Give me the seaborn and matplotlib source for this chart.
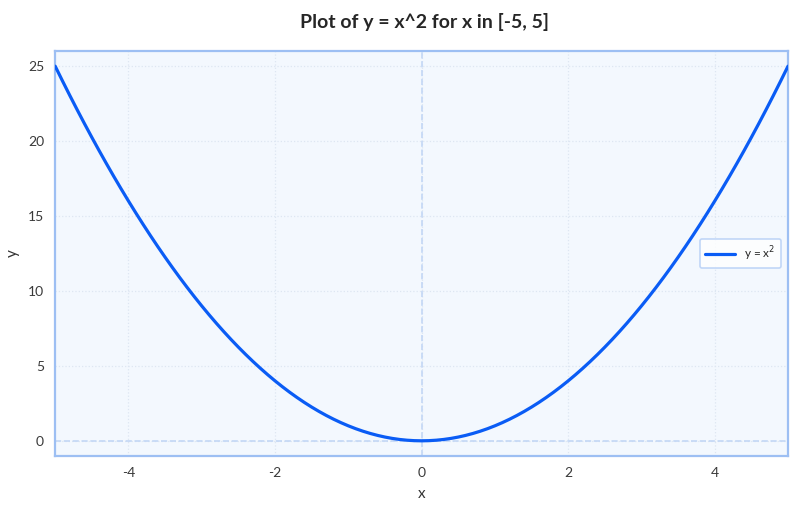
import matplotlib
matplotlib.use("Agg")
import matplotlib.pyplot as plt
import seaborn as sns
import pandas as pd

x_values = [-5.0, -4.9, -4.8, -4.7, -4.6, -4.5, -4.4, -4.3, -4.2, -4.1,
            -4.0, -3.9, -3.8, -3.7, -3.6, -3.5, -3.4, -3.3, -3.2, -3.1,
            -3.0, -2.9, -2.8, -2.7, -2.6, -2.5, -2.4, -2.3, -2.2, -2.1,
            -2.0, -1.9, -1.8, -1.7, -1.6, -1.5, -1.4, -1.3, -1.2, -1.1,
            -1.0, -0.9, -0.8, -0.7, -0.6, -0.5, -0.4, -0.3, -0.2, -0.1,
            0.0,
            0.1, 0.2, 0.3, 0.4, 0.5, 0.6, 0.7, 0.8, 0.9, 1.0,
            1.1, 1.2, 1.3, 1.4, 1.5, 1.6, 1.7, 1.8, 1.9, 2.0,
            2.1, 2.2, 2.3, 2.4, 2.5, 2.6, 2.7, 2.8, 2.9, 3.0,
            3.1, 3.2, 3.3, 3.4, 3.5, 3.6, 3.7, 3.8, 3.9, 4.0,
            4.1, 4.2, 4.3, 4.4, 4.5, 4.6, 4.7, 4.8, 4.9, 5.0]
y_values = [25.0, 24.01, 23.04, 22.09, 21.16, 20.25, 19.36, 18.49, 17.64, 16.81,
            16.0, 15.21, 14.44, 13.69, 12.96, 12.25, 11.56, 10.89, 10.24, 9.61,
            9.0, 8.41, 7.84, 7.29, 6.76, 6.25, 5.76, 5.29, 4.84, 4.41,
            4.0, 3.61, 3.24, 2.89, 2.56, 2.25, 1.96, 1.69, 1.44, 1.21,
            1.0, 0.81, 0.64, 0.49, 0.36, 0.25, 0.16, 0.09, 0.04, 0.01,
            0.0,
            0.01, 0.04, 0.09, 0.16, 0.25, 0.36, 0.49, 0.64, 0.81, 1.0,
            1.21, 1.44, 1.69, 1.96, 2.25, 2.56, 2.89, 3.24, 3.61, 4.0,
            4.41, 4.84, 5.29, 5.76, 6.25, 6.76, 7.29, 7.84, 8.41, 9.0,
            9.61, 10.24, 10.89, 11.56, 12.25, 12.96, 13.69, 14.44, 15.21, 16.0,
            16.81, 17.64, 18.49, 19.36, 20.25, 21.16, 22.09, 23.04, 24.01, 25.0]
series_label = "y = x$^2$"
title_text = "Plot of y = x^2 for x in [-5, 5]"
x_ticks = [-4, -2, 0, 2, 4]
y_ticks = [0, 5, 10, 15, 20, 25]

sns.set_theme(style="white")
plt.rcParams['font.family'] = ['Lato', 'DejaVu Sans']
plt.rcParams['axes.unicode_minus'] = False

df = pd.DataFrame({"x": x_values, "y": y_values})

fig = plt.figure(figsize=(8, 5.07), dpi=100)
ax = fig.add_axes([0.069, 0.101, 0.916, 0.798])
ax.set_facecolor("#f3f8fe")

sns.lineplot(data=df, x="x", y="y", ax=ax, color="#0a5cf5", linewidth=2.3,
             label=series_label, zorder=3)

ax.axhline(0, color="#c3d7f5", linestyle="--", linewidth=1.2, zorder=2)
ax.axvline(0, color="#c3d7f5", linestyle="--", linewidth=1.2, zorder=2)

ax.grid(True, linestyle=":", color="#dde6f2", linewidth=0.9)
ax.set_xlim(-5, 5)
ax.set_ylim(-1, 26)
ax.set_xticks(x_ticks)
ax.set_yticks(y_ticks)
ax.tick_params(length=0, labelsize=10, colors="#3a3a3a", pad=8)

for s in ax.spines.values():
    s.set_color("#9dbff3")
    s.set_linewidth(1.6)

ax.set_xlabel("x", fontsize=11, color="#333333", labelpad=6)
ax.set_ylabel("y", fontsize=11, color="#333333", labelpad=6)
fig.suptitle(title_text, fontsize=14, fontweight="bold", y=0.975, x=0.53)

leg = ax.legend(loc="center right", fontsize=8.5, frameon=True, fancybox=True,
                handlelength=2.5, borderpad=0.45, borderaxespad=0.6)
leg.get_frame().set_edgecolor("#b3cdf5")
leg.get_frame().set_facecolor("white")
leg.get_frame().set_linewidth(1.2)

fig.savefig("out.png", dpi=100)
